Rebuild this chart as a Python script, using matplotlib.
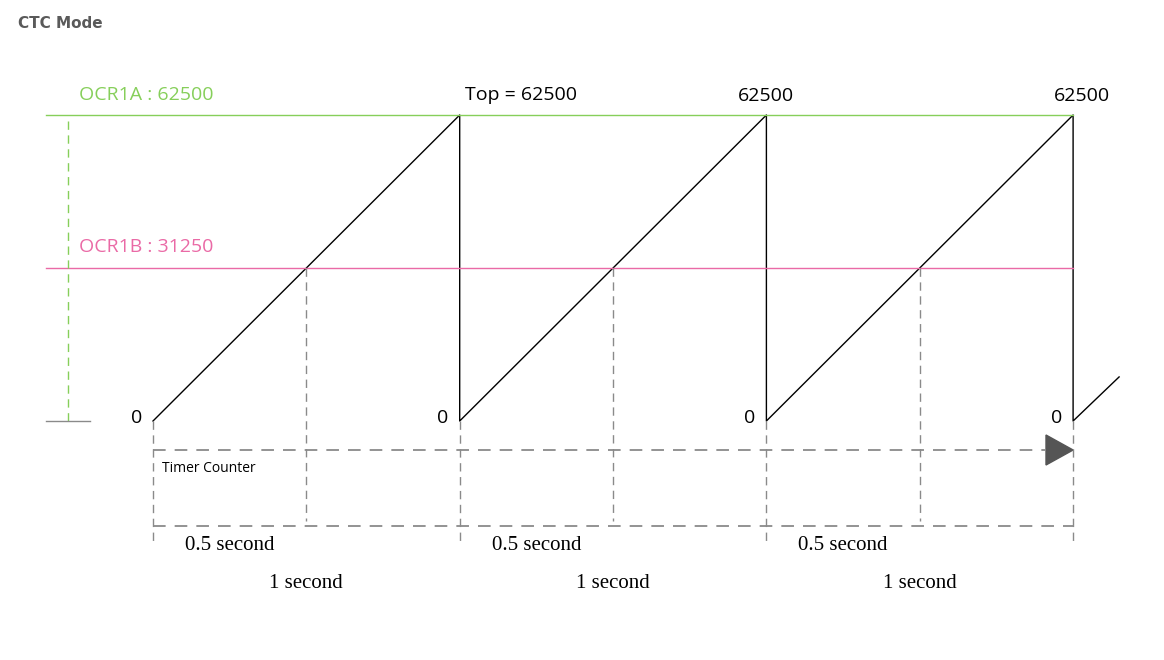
import matplotlib
matplotlib.use("Agg")
import matplotlib.pyplot as plt

# data
TOP = 62500
OCR1B = 31250
periods = [0, 1, 2, 3]            # seconds
halves = [0.5, 1.5, 2.5]
saw_t = [0, 1, 1, 2, 2, 3, 3, 3.15]
saw_v = [0, TOP, 0, TOP, 0, TOP, 0, 9000]
top_labels = ["Top = 62500", "62500", "62500"]

W, H = 1164, 660
PX_PER_S = 306.7
PX_PER_V = 306 / TOP
X0, Y0 = 153, 421
def tx(px): return (px - X0) / PX_PER_S
def vy(py): return (Y0 - py) / PX_PER_V

fig = plt.figure(figsize=(W/100, H/100), dpi=100)
ax = fig.add_axes([0, 0, 1, 1])
ax.set_xlim(tx(0), tx(W)); ax.set_ylim(vy(H), vy(0)); ax.axis("off")

green = "#86cf5a"; pink = "#ea6aa6"; grey = "#8a8a8a"
sans = "Open Sans"; serif = "Liberation Serif"

ax.plot(saw_t, saw_v, color="black", lw=1)
ax.plot([tx(46), 3], [TOP, TOP], color=green, lw=1)
ax.plot([tx(46), 3], [OCR1B, OCR1B], color=pink, lw=1)
ax.plot([tx(68)]*2, [0, TOP], color=green, lw=1, ls=(0, (6, 4)))
ax.plot([tx(46), tx(90)], [0, 0], color=grey, lw=1)
for t in periods:
    ax.plot([t, t], [0, vy(545)], color=grey, lw=1, ls=(0, (6, 4)))
for t in halves:
    ax.plot([t, t], [OCR1B, vy(521)], color=grey, lw=1, ls=(0, (6, 4)))
ax.plot([0, tx(1046)], [vy(450)]*2, color=grey, lw=1.3, ls=(0, (7, 5)))
ax.plot([0, 3], [vy(526)]*2, color=grey, lw=1.3, ls=(0, (7, 5)))
ax.fill([tx(1046), tx(1046), 3], [vy(435), vy(465), vy(450)], color="#555555")

for t in periods:
    ax.text(t - tx(X0 + 11), vy(418), "0", ha="right", va="center", fontsize=14, family=sans)
ax.text(tx(521), vy(95), top_labels[0], ha="center", va="center", fontsize=14, family=sans)
ax.text(2, vy(96), top_labels[1], ha="center", va="center", fontsize=14, family=sans)
ax.text(3.03, vy(96), top_labels[2], ha="center", va="center", fontsize=14, family=sans)
ax.text(tx(79), vy(95), "OCR1A : 62500", color=green, ha="left", va="center", fontsize=14, family=sans)
ax.text(tx(79), vy(247), "OCR1B : 31250", color=pink, ha="left", va="center", fontsize=14, family=sans)
ax.text(tx(162), vy(468), "Timer Counter", ha="left", va="center", fontsize=10, family=sans)
for t in periods[:3]:
    ax.text(t + 0.25, vy(545), "0.5 second", ha="center", va="center", fontsize=15, family=serif)
    ax.text(t + 0.5, vy(584), "1 second", ha="center", va="center", fontsize=15, family=serif)
ax.text(tx(18), vy(23), "CTC Mode", ha="left", va="center", fontsize=11, fontweight="bold",
        color="#5a5a5a", family="DejaVu Sans")
fig.savefig("out.png", dpi=100)
